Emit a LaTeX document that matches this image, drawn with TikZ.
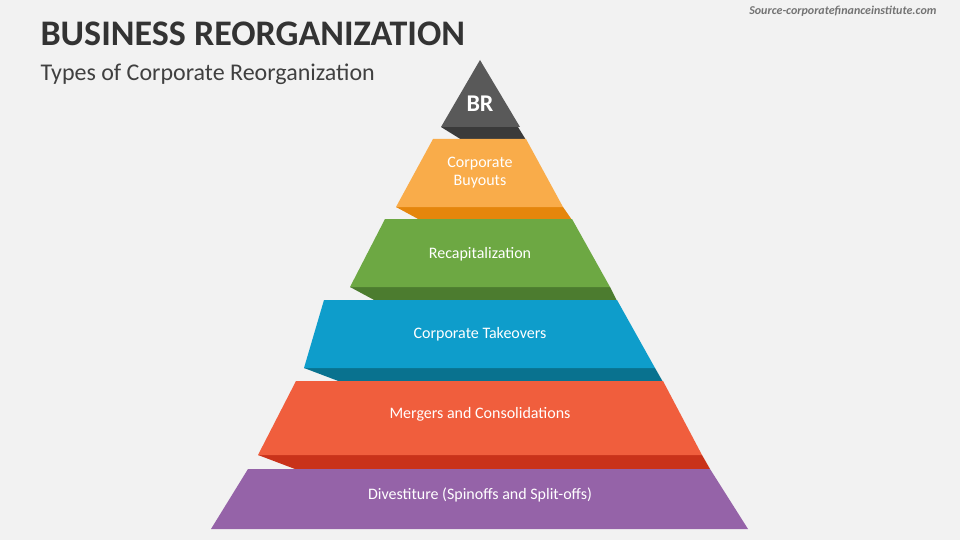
\documentclass[tikz,border=0pt]{standalone}
\usepackage{fontspec}
\setmainfont{Carlito}
\begin{document}
\begin{tikzpicture}[x=1pt,y=-1pt,
  lbl/.style={text=white,font=\fontsize{16}{18}\selectfont,align=center}]
\definecolor{bg}{HTML}{F2F2F2}
\definecolor{gA}{HTML}{595959}\definecolor{gB}{HTML}{3A3A3A}
\definecolor{oA}{HTML}{F9AC4A}\definecolor{oB}{HTML}{E5860C}
\definecolor{grA}{HTML}{6DA843}\definecolor{grB}{HTML}{4C7C2F}
\definecolor{bA}{HTML}{0E9DCB}\definecolor{bB}{HTML}{09728F}
\definecolor{rA}{HTML}{F05E3D}\definecolor{rB}{HTML}{C9321A}
\definecolor{pA}{HTML}{9563A8}
\fill[bg] (0,0) rectangle (960,540);
\node[anchor=west,font=\fontsize{36}{40}\selectfont\bfseries,text=black!80] (title) at (37,34) {BUSINESS REORGANIZATION};
\node[anchor=west,font=\fontsize{24}{28}\selectfont,text=black!75] (sub) at (37,74) {Types of Corporate Reorganization};
\node[anchor=east,font=\fontsize{12}{14}\selectfont\bfseries\itshape,text=black!55] (src) at (940,11) {Source-corporatefinanceinstitute.com};
% folds
\fill[gB] (441,127)--(518,127)--(526,140)--(462,140)--cycle;
\fill[oB] (396,207)--(563,207)--(572,220)--(420,220)--cycle;
\fill[grB] (350,287)--(610,287)--(617,301)--(376,301)--cycle;
\fill[bB] (304,368)--(655,368)--(663,382)--(341,382)--cycle;
\fill[rB] (258,455)--(702,455)--(710,469)--(295,469)--cycle;
% tiers
\fill[gA] (480,60)--(520,127)--(441,127)--cycle;
\fill[oA] (433,139)--(526,139)--(563,207)--(396,207)--cycle;
\fill[grA] (385,219)--(572,219)--(610,287)--(350,287)--cycle;
\fill[bA] (324,300)--(617,300)--(655,368)--(304,368)--cycle;
\fill[rA] (296,381)--(663,381)--(702,455)--(258,455)--cycle;
\fill[pA] (248,469)--(710,469)--(748,529)--(211,529)--cycle;
\node[text=white,font=\fontsize{24}{26}\selectfont\bfseries] (br) at (480,104) {BR};
\node[lbl] (t1) at (480,173) {Corporate\\Buyouts};
\node[lbl] (t2) at (480,254) {Recapitalization};
\node[lbl] (t3) at (480,334) {Corporate Takeovers};
\node[lbl] (t4) at (480,414) {Mergers and Consolidations};
\node[lbl] (t5) at (480,495) {Divestiture (Spinoffs and Split-offs)};
\end{tikzpicture}
\end{document}
